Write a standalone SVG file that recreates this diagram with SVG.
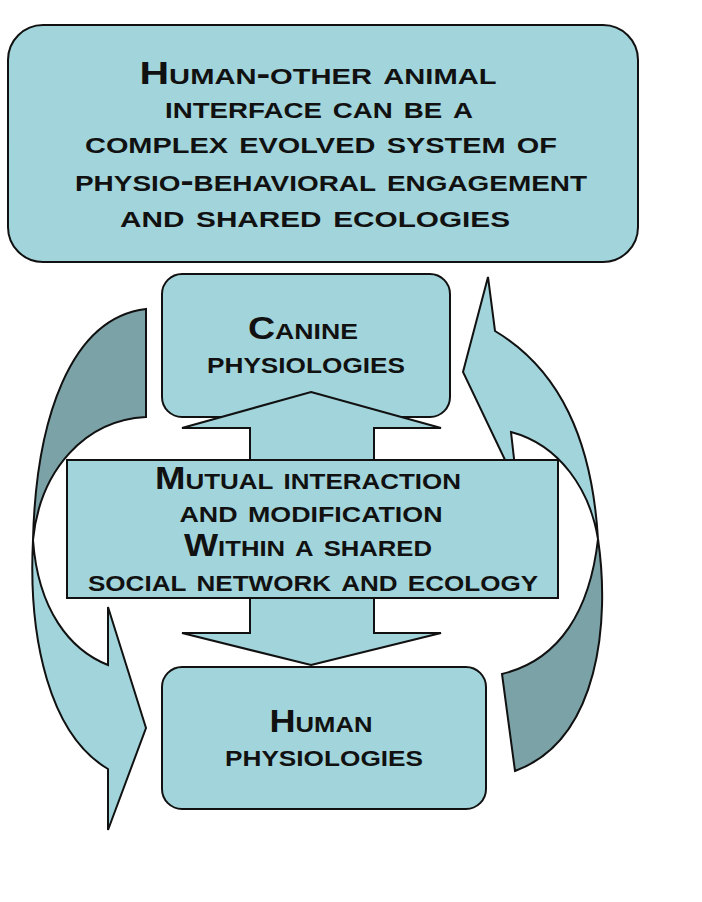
<svg xmlns="http://www.w3.org/2000/svg" width="702" height="902" viewBox="0 0 702 902">
<style>
.n{fill:#a2d5db;stroke:#111;stroke-width:2}
.d{fill:#7ba2a6;stroke:#111;stroke-width:2}
text{font-family:"Liberation Sans","DejaVu Sans",sans-serif;font-weight:bold;font-variant:small-caps;font-size:31px;fill:#111;text-anchor:middle}
</style>
<rect width="702" height="902" fill="#fff"/>
<g id="top">
<rect class="n" x="8" y="25" width="630" height="237" rx="35"/>
<text x="318" y="84" textLength="357" lengthAdjust="spacingAndGlyphs">Human-other animal</text>
<text x="319" y="118" textLength="308" lengthAdjust="spacingAndGlyphs">interface can be a</text>
<text x="321" y="153" textLength="472" lengthAdjust="spacingAndGlyphs">complex evolved system of</text>
<text x="331" y="191" textLength="512" lengthAdjust="spacingAndGlyphs">physio-behavioral engagement</text>
<text x="315" y="227" textLength="390" lengthAdjust="spacingAndGlyphs">and shared ecologies</text>
</g>
<g id="canine">
<rect class="n" x="162" y="274" width="288" height="143" rx="20"/>
<text x="303" y="339" textLength="110" lengthAdjust="spacingAndGlyphs">Canine</text>
<text x="306" y="373" textLength="198" lengthAdjust="spacingAndGlyphs">physiologies</text>
</g>
<g id="connectors">
<path class="d" d="M146,309 C70,318 36,420 33,540 C40,470 85,420 146,417 Z"/>
<path class="n" d="M33,540 C38,610 70,650 108,665 L108,607 L146,728 L108,830 L108,769 C50,735 28,640 33,540 Z"/>
<path class="n" d="M488,277 L495,331 C560,370 592,440 598,539 C590,490 560,445 511,432 L517,485 L463,372 Z"/>
<path class="d" d="M598,539 C610,620 600,740 515,771 L502,674 C560,660 590,610 598,539 Z"/>
<path class="n" d="M311,392 L441,428 L374,428 L374,460 L250,460 L250,428 L182,428 Z"/>
<path class="n" d="M311,665 L441,633 L374,633 L374,598 L250,598 L250,633 L182,633 Z"/>
</g>
<g id="mutual">
<rect class="n" x="67" y="460" width="491" height="138"/>
<text x="308" y="489" textLength="306" lengthAdjust="spacingAndGlyphs">Mutual interaction</text>
<text x="311" y="522" textLength="263" lengthAdjust="spacingAndGlyphs">and modification</text>
<text x="308" y="556" textLength="248" lengthAdjust="spacingAndGlyphs">Within a shared</text>
<text x="313" y="591" textLength="450" lengthAdjust="spacingAndGlyphs">social network and ecology</text>
</g>
<g id="human">
<rect class="n" x="162" y="667" width="324" height="142" rx="20"/>
<text x="321" y="732" textLength="103" lengthAdjust="spacingAndGlyphs">Human</text>
<text x="324" y="766" textLength="198" lengthAdjust="spacingAndGlyphs">physiologies</text>
</g>
</svg>
